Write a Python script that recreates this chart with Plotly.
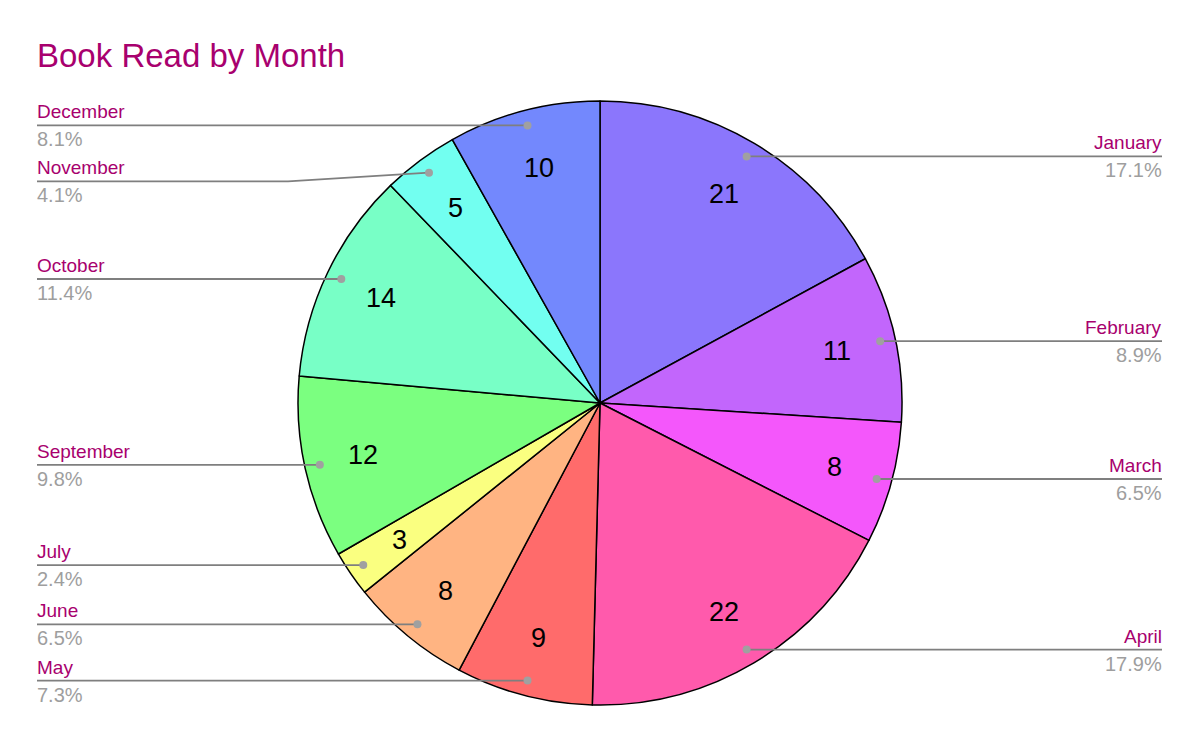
import math
import plotly.graph_objects as go

# books read per month (no August entry in the sheet)
months = ["January", "February", "March", "April", "May", "June",
          "July", "September", "October", "November", "December"]
books = [21, 11, 8, 22, 9, 8, 3, 12, 14, 5, 10]
colors = ["#8b76fc", "#c266fc", "#f457fb", "#ff5aac", "#ff6b6b", "#ffb482",
          "#faff80", "#7bff80", "#78ffc6", "#72fff0", "#7388fd"]

W, H = 1200, 740
OFF = 8                       # page body margin, the plot div starts 8px in
CX, CY, R = 600, 403, 302     # pie centre / radius in page pixels
MAGENTA = "#a8006e"
GREY = "#9e9e9e"
FONT = "Liberation Sans, Arial, sans-serif"

total = sum(books)

fig = go.Figure()
fig.add_trace(go.Pie(
    labels=months, values=books, sort=False, direction="clockwise", rotation=0,
    marker=dict(colors=colors, line=dict(color="black", width=1.5)),
    textinfo="none", hoverinfo="label+value+percent", showlegend=False,
    domain=dict(x=[(CX - R - OFF) / W, (CX + R - OFF) / W],
                y=[1 - (CY + R - OFF) / H, 1 - (CY - R - OFF) / H]),
))

shapes = []
annotations = []

# slice geometry
left, right = [], []
cum = 0
for m, v in zip(months, books):
    mid = (cum + v / 2) / total * 2 * math.pi
    cum += v
    sx, sy = math.sin(mid), -math.cos(mid)
    # value inside the slice
    annotations.append(dict(x=CX + 0.805 * R * sx, y=CY + 0.805 * R * sy, text=str(v),
                            showarrow=False, xref="x", yref="y",
                            font=dict(family=FONT, size=27, color="black")))
    dot = (CX + 0.95 * R * sx, CY + 0.95 * R * sy)
    item = dict(name=m, pct="%.1f%%" % (100 * v / total), dot=dot)
    (right if sx > 0 else left).append(item)

# spread labels so they don't overlap
for side in (left, right):
    side.sort(key=lambda it: it["dot"][1])
    prev = -1e9
    for it in side:
        it["ly"] = max(it["dot"][1], prev + 56)
        prev = it["ly"]

for side, xa, xe, anchor, tx in ((left, 37, 288, "left", 35), (right, 1162, 912, "right", 1164)):
    for it in side:
        dx, dy = it["dot"]
        ly = it["ly"]
        shapes.append(dict(type="path", xref="x", yref="y", layer="above",
                           path="M %f,%f L %f,%f L %f,%f" % (xa, ly, xe, ly, dx, dy),
                           line=dict(color="#7f7f7f", width=1.8)))
        shapes.append(dict(type="circle", xref="x", yref="y", layer="above",
                           xsizemode="pixel", ysizemode="pixel", xanchor=dx, yanchor=dy,
                           x0=-4, x1=4, y0=-4, y1=4,
                           fillcolor="#a0a0a0", line=dict(width=0)))
        annotations.append(dict(x=tx, y=ly - 1, xref="x", yref="y", text=it["name"],
                                showarrow=False, xanchor=anchor, yanchor="bottom",
                                font=dict(family=FONT, size=19, color=MAGENTA)))
        annotations.append(dict(x=tx, y=ly + 1, xref="x", yref="y", text=it["pct"],
                                showarrow=False, xanchor=anchor, yanchor="top",
                                font=dict(family=FONT, size=20, color=GREY)))

annotations.append(dict(x=35, y=55, xref="x", yref="y", text="Book Read by Month",
                        showarrow=False, xanchor="left", yanchor="middle",
                        font=dict(family=FONT, size=33, color=MAGENTA)))

fig.update_layout(
    width=W, height=H, margin=dict(l=0, r=0, t=0, b=0),
    paper_bgcolor="white", plot_bgcolor="white",
    xaxis=dict(range=[OFF, W + OFF], visible=False, domain=[0, 1], fixedrange=True),
    yaxis=dict(range=[H + OFF, OFF], visible=False, domain=[0, 1], fixedrange=True),
    shapes=shapes, annotations=annotations,
)

fig.write_html("out.html")
